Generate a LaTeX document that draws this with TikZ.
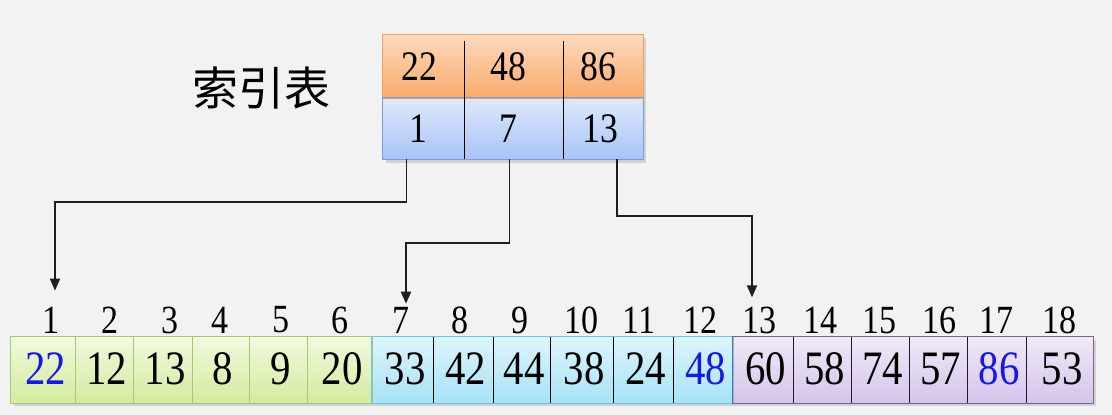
\documentclass[tikz,border=0pt]{standalone}
\usepackage{fontspec}
\setmainfont{Liberation Serif}
\newfontfamily\numfont{Liberation Serif}[FakeStretch=0.85]
\newfontfamily\cjk{Noto Sans CJK SC}
\usetikzlibrary{arrows.meta}
\definecolor{bg}{HTML}{F2F2F2}
\definecolor{ortop}{HTML}{FCDABE}
\definecolor{orbot}{HTML}{F9AA6A}
\definecolor{orline}{HTML}{F0A060}
\definecolor{bltop}{HTML}{DEE8FC}
\definecolor{blbot}{HTML}{A8C4F6}
\definecolor{blline}{HTML}{7A9BD4}
\definecolor{grtop}{HTML}{F1F9DE}
\definecolor{grbot}{HTML}{D2EB9E}
\definecolor{grline}{HTML}{A8C674}
\definecolor{cytop}{HTML}{DDF5FC}
\definecolor{cybot}{HTML}{A6E2F5}
\definecolor{cyline}{HTML}{6CC5E4}
\definecolor{putop}{HTML}{F1E9F8}
\definecolor{pubot}{HTML}{D3C4EB}
\definecolor{puline}{HTML}{75688A}
\definecolor{vb}{HTML}{1818E0}
\definecolor{ink}{HTML}{1E1E1E}
\begin{document}
\begin{tikzpicture}[x=1pt,y=-1pt,
  tcell/.style={inner sep=0pt,text=black,font=\numfont\fontsize{42}{44}\selectfont},
  cell/.style={inner sep=0pt,minimum height=66pt,font=\numfont\fontsize{48}{50}\selectfont},
  lbl/.style={inner sep=0pt,text=black,font=\numfont\fontsize{40}{42}\selectfont},
  arr/.style={draw=ink,line width=1.5pt,-{Triangle[length=12pt,width=10pt]}},
  divider/.style={draw=black,line width=1.1pt},
  shadow/.style={fill=black,opacity=0.13}]
\useasboundingbox (0,0) rectangle (1112,415);
\fill[bg] (0,0) rectangle (1112,415);

\node[font=\cjk\fontsize{46}{48}\selectfont,inner sep=0pt] (title) at (261,88) {索引表};

% index table
\fill[shadow] (386,38) rectangle (646,163);
\node[tcell,top color=ortop,bottom color=orbot,minimum width=81pt,minimum height=63pt] (t1) at (423.5,66.5) {\hspace*{-8pt}22};
\node[tcell,top color=ortop,bottom color=orbot,minimum width=99pt,minimum height=63pt] (t2) at (513.5,66.5) {\hspace*{-10pt}48};
\node[tcell,top color=ortop,bottom color=orbot,minimum width=80pt,minimum height=63pt] (t3) at (603,66.5) {\hspace*{-10pt}86};
\node[tcell,top color=bltop,bottom color=blbot,minimum width=81pt,minimum height=61pt] (p1) at (423.5,128.5) {\hspace*{-10pt}1};
\node[tcell,top color=bltop,bottom color=blbot,minimum width=99pt,minimum height=61pt] (p2) at (513.5,128.5) {\hspace*{-10pt}7};
\node[tcell,top color=bltop,bottom color=blbot,minimum width=80pt,minimum height=61pt] (p3) at (603,128.5) {\hspace*{-6pt}13};
\draw[draw=orline,line width=1.2pt] (t1.north west) rectangle (t3.south east);
\draw[draw=blline,line width=1.2pt] (p1.north west) rectangle (p3.south east);
\draw[divider] ([yshift=-6pt]t1.north east) -- (p1.south east);
\draw[divider] ([yshift=-6pt]t2.north east) -- (p2.south east);

% main array
\fill[shadow] (14,340) rectangle (1096,406);
\foreach \i/\a/\b/\v/\g/\c in {
  1/11/75/22/gr/vb, 2/75/133/12/gr/black, 3/133/192/13/gr/black,
  4/192/249/8/gr/black, 5/249/307/9/gr/black, 6/307/372/20/gr/black,
  7/372/433/33/cy/black, 8/433/493/42/cy/black, 9/493/550/44/cy/black,
  10/550/613/38/cy/black, 11/613/673/24/cy/black, 12/673/733/48/cy/vb,
  13/733/793/60/pu/black, 14/793/851/58/pu/black, 15/851/909/74/pu/black,
  16/909/967/57/pu/black, 17/967/1026/86/pu/vb, 18/1026/1093/53/pu/black}
  \node[cell,top color=\g top,bottom color=\g bot,text=\c,minimum width={(\b-\a)*1pt}]
    (c\i) at ({(\a+\b)/2},370) {\hspace*{5pt}\raisebox{3pt}{\v}};
\draw[draw=grline,line width=1.2pt] (c1.north west) rectangle (c6.south east);
\foreach \i in {1,...,5} \draw[draw=grline,line width=1.2pt] (c\i.north east) -- (c\i.south east);
\draw[draw=cyline,line width=1.2pt] (c7.north west) rectangle (c12.south east);
\foreach \i in {7,...,11} \draw[divider] (c\i.north east) -- (c\i.south east);
\draw[draw=puline,line width=1.2pt] (c13.north west) rectangle (c18.south east);
\foreach \i in {13,...,17} \draw[divider,draw=ink] (c\i.north east) -- (c\i.south east);

% position labels
\foreach \i/\x in {1/51,2/110,3/170,4/220,5/281,6/340,7/401,8/460,9/520,10/581,
  11/639,12/700,13/759,14/820,15/879,16/939,17/996,18/1059}
  \node[lbl] (l\i) at (\x,320) {\i};

% connectors
\draw[arr] ([xshift=-17pt]p1.south) -- ++(0,43) -| ([xshift=4pt,yshift=16pt]l1.north);
\draw[arr] ([xshift=-4pt]p2.south) -- ++(0,84) -| ([xshift=5pt,yshift=3pt]l7.north);
\draw[arr] ([xshift=14pt]p3.south) -- ++(0,57) -| ([xshift=-7pt,yshift=9pt]l13.north);
\end{tikzpicture}
\end{document}
